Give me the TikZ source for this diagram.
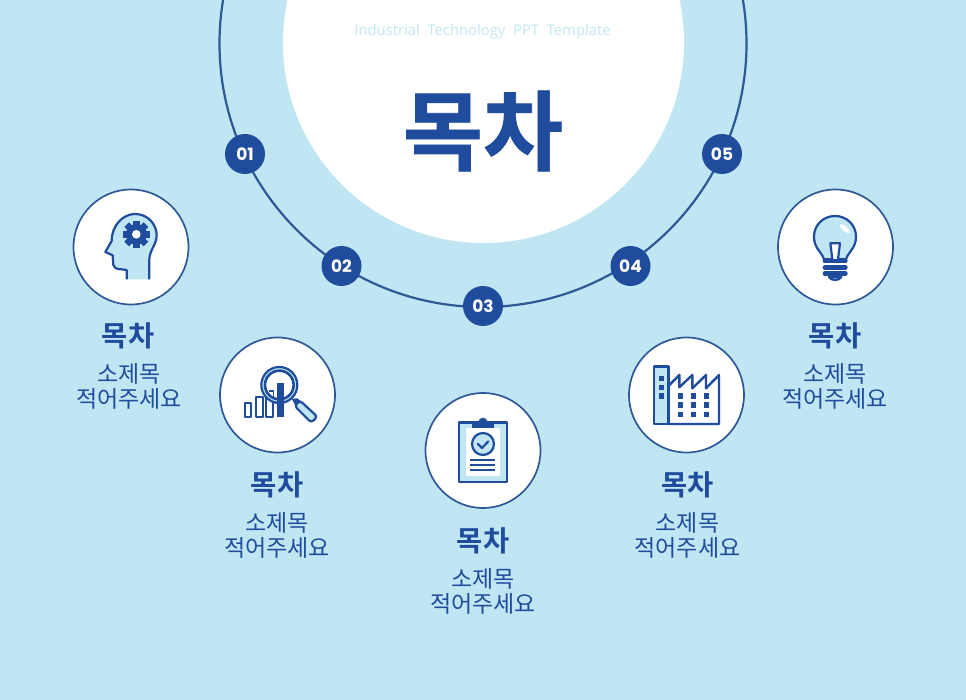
\documentclass[tikz,border=0pt]{standalone}
\usepackage{fontspec}
\setmainfont{Noto Sans CJK KR}[BoldFont={* Bold}]
\newfontfamily\titlef{Noto Sans CJK KR Bold}[FakeBold=0.8]
\newfontfamily\latinf{Open Sans}
\newfontfamily\numf{Poppins}
\definecolor{navy}{HTML}{1F4C9C}
\definecolor{ring}{HTML}{2F5896}
\definecolor{sky}{HTML}{C0E5F3}
\definecolor{hdr}{HTML}{C3E7F4}
\tikzset{
  numdot/.style={circle,fill=navy,minimum size=40pt,inner sep=0pt,text=white,font=\numf\bfseries\fontsize{17}{17}\selectfont},
  iconcirc/.style={circle,draw=ring,line width=1.7pt,fill=white,minimum size=115pt,inner sep=0pt},
  head/.style={text=navy,font=\bfseries\fontsize{28.5}{28.5}\selectfont,inner sep=0pt},
  sub/.style={text=navy,font=\fontsize{23}{25}\selectfont,inner sep=0pt,align=center},
  ic/.style={draw=navy,line width=2.2pt,line join=round},
  zoomed/.style={x=0.3333pt,y=-0.3333pt}
}
\begin{document}
\begin{tikzpicture}[x=1pt,y=-1pt]
\useasboundingbox (0,0) rectangle (966,700);
\fill[sky] (0,0) rectangle (966,700);
\begin{scope}
\clip (0,0) rectangle (966,700);
\draw[ring,line width=2.2pt] (483,43.5) circle[radius=263.5];
\fill[white] (483.5,42.5) circle[radius=200.5];
\end{scope}
\node[text=hdr,font=\latinf\fontsize{14.8}{15}\selectfont,inner sep=0pt] (subtitle) at (482.5,32) {Industrial\ \ Technology\ \ PPT\ \ Template};
\node[text=navy,font=\titlef\fontsize{87}{87}\selectfont,inner sep=0pt] (title) at (483,131) {목차};
\node[numdot] (n1) at (245,154) {01};
\node[numdot] (n2) at (341.5,266) {02};
\node[numdot] (n3) at (483,306) {03};
\node[numdot] (n4) at (630.5,266) {04};
\node[numdot] (n5) at (722,154) {05};
\node[iconcirc] (c1) at (131,247) {};
\node[iconcirc] (c2) at (277.5,395) {};
\node[iconcirc] (c3) at (483,450.5) {};
\node[iconcirc] (c4) at (686.5,395) {};
\node[iconcirc] (c5) at (835.5,247) {};
\node[head] (h1) at (128,336) {목차};
\node[sub]  (s1) at (129,386) {소제목\\적어주세요};
\node[head] (h2) at (277,485) {목차};
\node[sub]  (s2) at (277,535) {소제목\\적어주세요};
\node[head] (h3) at (483,541) {목차};
\node[sub]  (s3) at (483,591) {소제목\\적어주세요};
\node[head] (h4) at (687.5,485) {목차};
\node[sub]  (s4) at (687.5,535) {소제목\\적어주세요};
\node[head] (h5) at (835,336) {목차};
\node[sub]  (s5) at (835,386) {소제목\\적어주세요};
% head icon
\begin{scope}[shift={(60,180)},zoomed]
\filldraw[ic,fill=sky] (200,298) -- (200,270) .. controls (185,266) and (165,272) .. (160,255) -- (158,226) -- (136,216) -- (155,183) .. controls (155,135) and (190,102) .. (225,102) .. controls (265,102) and (290,135) .. (290,165) .. controls (290,195) and (268,210) .. (268,240) -- (268,298);
\fill[navy] (229,163) circle[radius=31];
\foreach \a in {0,45,...,315}{\fill[navy,rotate around={\a:(229,163)}] (219,122) rectangle (239,140);}
\fill[white] (229,163) circle[radius=13];
\end{scope}
% magnifier icon
\begin{scope}[shift={(210,330)},zoomed]
\draw[ic] (105,218) rectangle (124,260);
\draw[ic] (138,202) rectangle (158,260);
\draw[ic] (168,185) rectangle (190,260);
\filldraw[ic,fill=sky] (208,165) circle[radius=54];
\filldraw[ic,fill=white,line width=2.6pt] (208,165) circle[radius=43];
\fill[navy] (200,160) rectangle (222,260);
\draw[ic,line width=1.3pt] (178,183) -- (190,183) -- (190,205);
\fill[navy] (246,207) -- (262,205) -- (280,219) -- (258,232) -- cycle;
\filldraw[ic,fill=sky,rounded corners=3pt] (254,228) -- (270,212) -- (322,260) -- (304,278) -- cycle;
\end{scope}
% clipboard icon
\begin{scope}[shift={(415,385)},zoomed]
\filldraw[ic,fill=sky,line width=2.4pt] (132,113) rectangle (276,291);
\fill[white] (152,128) rectangle (256,272);
\fill[navy] (172,112) rectangle (238,130);
\fill[navy] (204,112) circle[radius=14];
\filldraw[ic,fill=sky] (204,177) circle[radius=33];
\draw[ic,line cap=round] (189,177) -- (201,189) -- (220,169);
\draw[ic] (166,225) -- (241,225);
\draw[ic] (166,240) -- (241,240);
\draw[ic] (166,255) -- (241,255);
\end{scope}
% factory icon
\begin{scope}[shift={(620,330)},zoomed]
\filldraw[ic,fill=white,line width=2.4pt] (145,282) -- (145,168) -- (178,135) -- (178,172) -- (217,135) -- (217,175) -- (258,135) -- (258,175) -- (297,135) -- (297,282) -- cycle;
\filldraw[ic,fill=sky,line width=2.4pt] (102,110) rectangle (145,282);
\foreach \y in {146,172,198}{\fill[navy] (116,\y-8) rectangle (131,\y+8);}
\foreach \x in {182,220,259}{\foreach \y in {198,225,253}{\fill[navy] (\x-8,\y-8) rectangle (\x+8,\y+8);}}
\end{scope}
% bulb icon
\begin{scope}[shift={(770,180)},zoomed]
\filldraw[ic,fill=sky] (162,238) .. controls (155,215) and (132,205) .. (132,170) .. controls (132,135) and (160,108) .. (195,108) .. controls (230,108) and (258,135) .. (258,170) .. controls (258,205) and (235,215) .. (228,238) -- cycle;
\fill[white] (208,133) .. controls (220,130) and (240,145) .. (240,160) .. controls (228,160) and (212,148) .. (208,133) -- cycle;
\filldraw[ic,fill=white] (187,238) -- (181,190) -- (210,190) -- (204,238);
\filldraw[ic,fill=sky] (177,291) .. controls (182,303) and (208,303) .. (214,291) -- cycle;
\draw[navy,line width=4.8pt,line cap=round] (165,243) -- (226,243);
\draw[navy,line width=4.8pt,line cap=round] (165,262) -- (226,262);
\draw[navy,line width=4.8pt,line cap=round] (165,281) -- (226,281);
\end{scope}
\end{tikzpicture}
\end{document}
